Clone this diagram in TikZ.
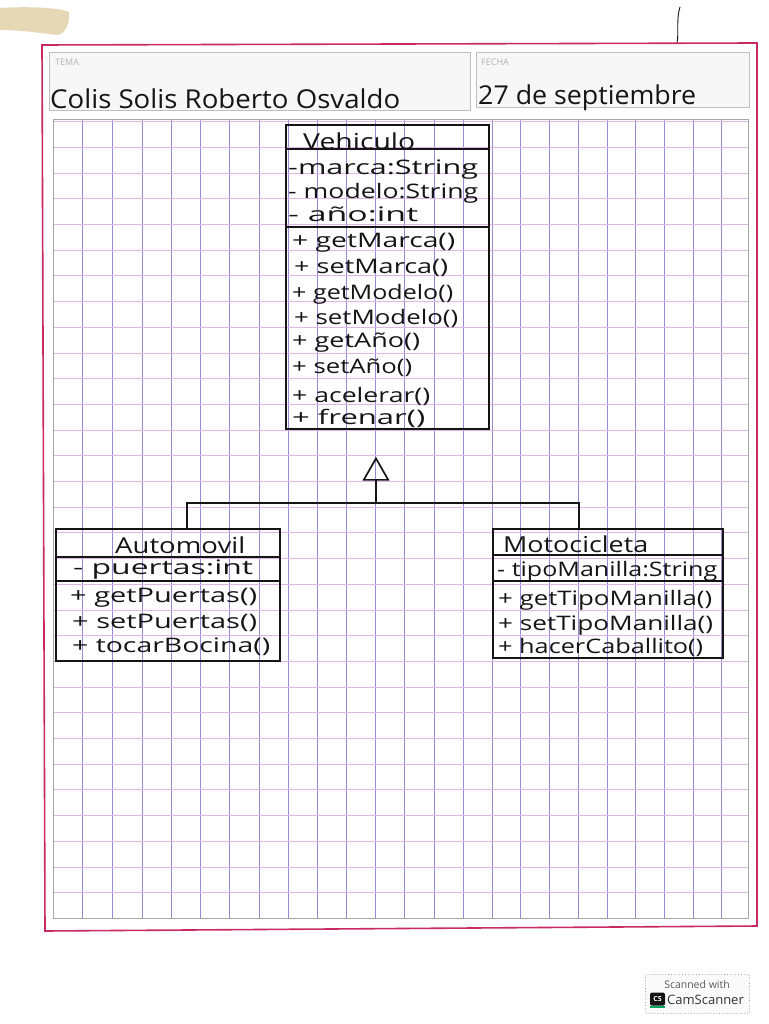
\documentclass[tikz,border=0pt]{standalone}
\usepackage{fontspec}
\setmainfont{Open Sans}
\usetikzlibrary{arrows.meta,calc}
\definecolor{gridv}{HTML}{9888D6}
\definecolor{gridh}{HTML}{E0B6E6}
\definecolor{redline}{HTML}{C92A66}
\definecolor{ink}{HTML}{151515}
\definecolor{stain}{HTML}{DCC896}
\newcommand{\hw}[2]{\resizebox{#1pt}{\height}{#2}}
\tikzset{
  gv/.style={draw=gridv, line width=0.9pt},
  gh/.style={draw=gridh, line width=0.9pt},
  cls/.style={draw=ink, line width=1.7pt, inner sep=0pt, rectangle},
  sep/.style={draw=ink, line width=1.7pt},
  conn/.style={draw=ink, line width=1.7pt},
  txt/.style={inner sep=0pt, anchor=west, text=ink, font=\fontsize{20}{20}\selectfont},
  ttl/.style={inner sep=0pt, anchor=west, text=ink, font=\fontsize{22}{22}\selectfont},
  hdr/.style={inner sep=0pt, anchor=west, text=ink, font=\fontsize{26}{26}\selectfont},
  lbl/.style={inner sep=0pt, anchor=west, text=black!30, font=\fontsize{9}{9}\selectfont},
  hbox/.style={draw=black!25, line width=0.9pt, fill=black!3}
}
\begin{document}
\begin{tikzpicture}[x=1pt,y=-1pt]
\useasboundingbox (0,0) rectangle (768,1024);
\fill[white] (0,0) rectangle (768,1024);
% stain and pen stroke
\fill[stain, opacity=0.7] (0,8) .. controls (30,6) and (60,8) .. (69,12) .. controls (70,22) and (66,33) .. (58,35) .. controls (40,33) and (20,30) .. (0,30) -- cycle;
\draw[ink, line width=0.9pt] (680,7) .. controls (676,20) and (679,32) .. (677,43);
% header boxes
\node[hbox, minimum width=421pt, minimum height=58pt, anchor=north west] (tema) at (49,52) {};
\node[hbox, minimum width=273pt, minimum height=55pt, anchor=north west] (fecha) at (476,52) {};
\node[lbl] (temal) at (55,62) {TEMA};
\node[lbl] (fechal) at (481,62) {FECHA};
\node[hdr] (name) at (50,99) {\hw{350}{Colis Solis Roberto Osvaldo}};
\node[hdr] (date) at (478,98) {\hw{218}{27 de septiembre}};
% grid
\foreach \x in {53,82,112,142,171,200,229,259,288,317,346,375,404,434,463,492,520,549,578,607,635,664,693,721}
  \draw[gv] (\x,119) -- (\x,918);
\foreach \j in {0,...,31} {
  \pgfmathsetmacro\yy{121.7+25.7*\j}
  \draw[gh] (53,\yy) -- (748,\yy);
}
\draw[black!35, line width=0.9pt] (53,119) rectangle (748,918);
% red border
\draw[redline, line width=1.6pt] (42,45) -- (757,43) -- (757,926) -- (45,931) -- cycle;
% Vehiculo
\node[cls, minimum width=203pt, minimum height=304pt, anchor=north west] (veh) at (285,124) {};
\draw[sep] (veh.west |- 0,149) -- (veh.east |- 0,149);
\draw[sep] (veh.west |- 0,227) -- (veh.east |- 0,227);
\node[ttl] (vt) at (303,141) {\hw{112}{Vehiculo}};
\node[txt] (va1) at (288,170) {\hw{190}{-marca:String}};
\node[txt] (va2) at (288,193) {\hw{190}{- modelo:String}};
\node[txt] (va3) at (288,214) {\hw{130}{- año:int}};
\node[txt] (vm1) at (292,243) {\hw{163}{+ getMarca()}};
\node[txt] (vm2) at (294,268) {\hw{154}{+ setMarca()}};
\node[txt] (vm3) at (292,294) {\hw{161}{+ getModelo()}};
\node[txt] (vm4) at (294,318) {\hw{164}{+ setModelo()}};
\node[txt] (vm5) at (292,343) {\hw{128}{+ getAño()}};
\node[txt] (vm6) at (292,368) {\hw{120}{+ setAño()}};
\node[txt] (vm7) at (292,396) {\hw{138}{+ acelerar()}};
\node[txt] (vm8) at (292,418) {\hw{133}{+ frenar()}};
% Automovil
\node[cls, minimum width=224pt, minimum height=132pt, anchor=north west] (auto) at (55,528) {};
\draw[sep] (auto.west |- 0,557) -- (auto.east |- 0,557);
\draw[sep] (auto.west |- 0,581) -- (auto.east |- 0,581);
\node[ttl] (at) at (115,545) {\hw{130}{Automovil}};
\node[txt] (aa1) at (73,570) {\hw{180}{- puertas:int}};
\node[txt] (am1) at (70,598) {\hw{187}{+ getPuertas()}};
\node[txt] (am2) at (72,623) {\hw{185}{+ setPuertas()}};
\node[txt] (am3) at (72,647) {\hw{198}{+ tocarBocina()}};
% Motocicleta
\node[cls, minimum width=230pt, minimum height=129pt, anchor=north west] (moto) at (492,528) {};
\draw[sep] (moto.west |- 0,555) -- (moto.east |- 0,555);
\draw[sep] (moto.west |- 0,581) -- (moto.east |- 0,581);
\node[ttl] (mt) at (503,544) {\hw{145}{Motocicleta}};
\node[txt] (ma1) at (497,571) {\hw{220}{- tipoManilla:String}};
\node[txt] (mm1) at (498,600) {\hw{214}{+ getTipoManilla()}};
\node[txt] (mm2) at (498,625) {\hw{215}{+ setTipoManilla()}};
\node[txt] (mm3) at (498,647) {\hw{205}{+ hacerCaballito()}};
% inheritance
\coordinate (j) at (376,503);
\draw[conn] ([xshift=19pt]auto.north) |- (j) -| ([xshift=-29pt]moto.north);
\draw[conn, -{Triangle[open, length=24pt, width=27pt, line width=1.7pt]}, shorten >=27pt] (j) -- (j |- veh.south);
% watermark
\node[draw=black!35, dotted, line width=0.8pt, rounded corners=2pt, fill=black!2, minimum width=104pt, minimum height=39pt, anchor=north west] (wm) at (645,974) {};
\node[inner sep=0pt, text=black!65, font=\fontsize{10.5}{10.5}\selectfont] (wm1) at (697,985) {Scanned with};
\node[fill=ink, rounded corners=1.5pt, minimum width=15pt, minimum height=13pt, inner sep=0pt, text=white, font=\bfseries\fontsize{7}{7}\selectfont] (logo) at (657.5,999) {CS};
\fill[teal!70!green] (logo.south west) rectangle ([yshift=-2pt]logo.south east);
\node[inner sep=0pt, anchor=west, text=black!80, font=\fontsize{13}{13}\selectfont] (wm2) at (667,1000) {CamScanner};
\end{tikzpicture}
\end{document}
